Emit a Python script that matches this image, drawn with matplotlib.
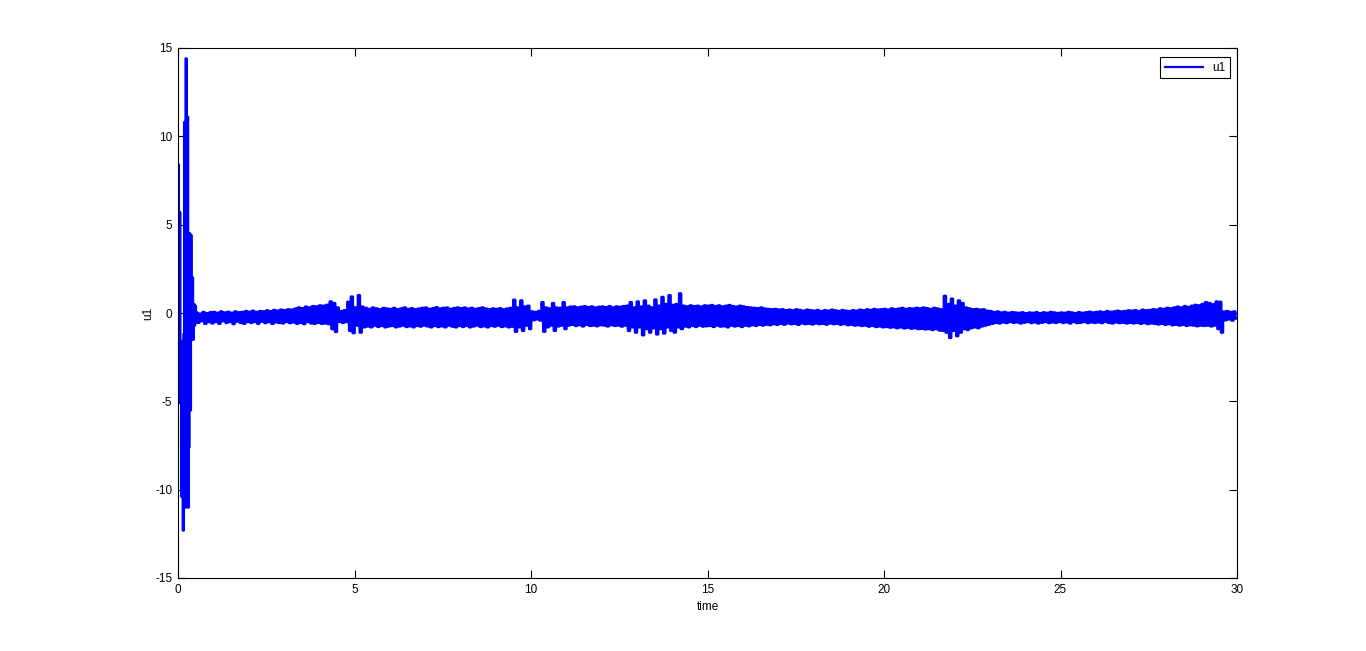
import numpy as np
import matplotlib
matplotlib.use("Agg")
from matplotlib import pyplot as plt

# start-up transient, sampled every 0.02 s from t = 0
transientStep = 0.02
transient = [8.4, 2.2, 5.7, -5.1, -1.6, -10.4, -1.6, -12.3, -1.2, 10.8,
             -11.0, 14.4, 3.6, 11.1, -11.0, -7.6, 4.5, -5.5, 4.4, -1.5,
             2.0, -1.5, 0.5, -0.7, 0.4]

# steady part from t = 0.5 s, one (high, low) pair every 0.1 s
bandStart = 0.5
bandStep = 0.1
bandHigh = [
    0.02, -0.05, 0.05, -0.02, 0.04,
    0.05, 0.0, 0.08, 0.02, 0.06, 0.0, 0.08, 0.03, 0.05, 0.1,
    0.06, 0.12, 0.05, 0.1, 0.08, 0.14, 0.1, 0.16, 0.12, 0.18,
    0.15, 0.2, 0.18, 0.24, 0.3, 0.26, 0.35, 0.3, 0.38, 0.36,
    0.42, 0.4, 0.45, 0.64, 0.55, 0.3, 0.1, 0.15, 0.62, 0.92,
    0.3, 1.0, 0.35, 0.28, 0.22, 0.3, 0.25, 0.2, 0.28, 0.24,
    0.22, 0.28, 0.2, 0.25, 0.3, 0.22, 0.26, 0.2, 0.24, 0.28,
    0.3, 0.22, 0.26, 0.32, 0.24, 0.28, 0.3, 0.22, 0.27, 0.3,
    0.26, 0.3, 0.24, 0.28, 0.22, 0.26, 0.3, 0.24, 0.2, 0.25,
    0.22, 0.26, 0.2, 0.24, 0.28, 0.74, 0.3, 0.7, 0.35, 0.4,
    0.08, 0.05, 0.1, 0.6, 0.3, 0.25, 0.55, 0.3, 0.28, 0.6,
    0.3, 0.35, 0.36, 0.3, 0.34, 0.38, 0.32, 0.36, 0.3, 0.34,
    0.36, 0.32, 0.38, 0.3, 0.36, 0.34, 0.38, 0.4, 0.6, 0.3,
    0.64, 0.35, 0.7, 0.4, 0.3, 0.75, 0.4, 0.9, 0.5, 1.0,
    0.45, 0.5, 1.1, 0.4, 0.36, 0.42, 0.38, 0.4, 0.35, 0.42,
    0.4, 0.44, 0.38, 0.42, 0.36, 0.4, 0.44, 0.38, 0.35, 0.4,
    0.36, 0.32, 0.3, 0.28, 0.26, 0.3, 0.24, 0.22, 0.2, 0.22,
    0.18, 0.2, 0.15, 0.18, 0.14, 0.2, 0.16, 0.12, 0.18, 0.15,
    0.12, 0.16, 0.1, 0.15, 0.12, 0.18, 0.14, 0.1, 0.16, 0.12,
    0.1, 0.15, 0.12, 0.18, 0.14, 0.2, 0.16, 0.22, 0.18, 0.2,
    0.22, 0.18, 0.25, 0.2, 0.24, 0.28, 0.22, 0.26, 0.24, 0.28,
    0.25, 0.3, 0.26, 0.22, 0.28, 0.24, 0.2, 0.96, 0.5, 0.8,
    0.4, 0.7, 0.55, 0.3, 0.25, 0.2, 0.22, 0.18, 0.2, 0.12,
    0.1, 0.05, 0.08, 0.02, 0.05, 0.0, 0.04, 0.02, 0.0, 0.03,
    -0.02, 0.02, 0.0, 0.04, -0.02, 0.03, 0.0, 0.05, 0.02, -0.01,
    0.02, 0.0, 0.05, 0.02, -0.02, 0.04, 0.0, 0.03, 0.06, 0.02,
    0.05, 0.08, 0.04, 0.1, 0.06, 0.08, 0.12, 0.08, 0.1, 0.14,
    0.12, 0.15, 0.1, 0.18, 0.14, 0.16, 0.2, 0.18, 0.25, 0.22,
    0.28, 0.25, 0.3, 0.35, 0.3, 0.38, 0.33, 0.4, 0.45, 0.42,
    0.5, 0.6, 0.55, 0.48, 0.64, 0.62, 0.07, 0.1, 0.05, 0.08,
]
bandLow = [
    -0.55, -0.45, -0.6, -0.5, -0.58,
    -0.5, -0.6, -0.45, -0.55, -0.5, -0.62, -0.48, -0.55, -0.6, -0.5,
    -0.55, -0.5, -0.6, -0.48, -0.56, -0.5, -0.6, -0.52, -0.55, -0.58,
    -0.5, -0.56, -0.52, -0.6, -0.55, -0.62, -0.5, -0.58, -0.6, -0.55,
    -0.6, -0.58, -0.62, -0.9, -1.06, -0.5, -0.55, -0.5, -1.0, -1.13,
    -0.7, -1.1, -0.8, -0.75, -0.8, -0.7, -0.78, -0.72, -0.8, -0.75,
    -0.72, -0.8, -0.75, -0.7, -0.78, -0.74, -0.8, -0.72, -0.76, -0.7,
    -0.75, -0.8, -0.72, -0.78, -0.74, -0.8, -0.7, -0.76, -0.8, -0.72,
    -0.78, -0.72, -0.8, -0.75, -0.7, -0.78, -0.74, -0.8, -0.72, -0.76,
    -0.7, -0.78, -0.74, -0.8, -0.76, -1.05, -0.8, -1.0, -0.7, -0.9,
    -0.4, -0.35, -0.42, -1.05, -0.8, -0.7, -1.0, -0.75, -0.7, -0.9,
    -0.7, -0.65, -0.72, -0.68, -0.75, -0.66, -0.72, -0.7, -0.74, -0.68,
    -0.7, -0.75, -0.68, -0.72, -0.7, -0.76, -0.7, -1.0, -0.8, -1.1,
    -0.8, -1.25, -0.9, -1.1, -0.85, -1.2, -0.9, -1.15, -0.8, -1.0,
    -1.1, -0.8, -0.9, -0.75, -0.8, -0.72, -0.78, -0.7, -0.76, -0.74,
    -0.72, -0.78, -0.7, -0.76, -0.74, -0.8, -0.7, -0.75, -0.72, -0.78,
    -0.7, -0.74, -0.68, -0.72, -0.66, -0.7, -0.65, -0.68, -0.62, -0.66,
    -0.6, -0.65, -0.58, -0.62, -0.6, -0.66, -0.58, -0.62, -0.6, -0.64,
    -0.58, -0.62, -0.6, -0.65, -0.58, -0.62, -0.6, -0.66, -0.62, -0.68,
    -0.65, -0.7, -0.68, -0.72, -0.7, -0.76, -0.72, -0.78, -0.75, -0.8,
    -0.78, -0.82, -0.8, -0.85, -0.8, -0.86, -0.82, -0.88, -0.85, -0.9,
    -0.88, -0.92, -0.9, -0.95, -0.9, -0.98, -1.0, -1.1, -1.4, -1.0,
    -1.3, -1.1, -0.9, -0.95, -0.85, -0.8, -0.85, -0.75, -0.7, -0.65,
    -0.6, -0.55, -0.58, -0.52, -0.56, -0.5, -0.55, -0.52, -0.58, -0.54,
    -0.5, -0.56, -0.52, -0.58, -0.54, -0.5, -0.56, -0.52, -0.55, -0.5,
    -0.55, -0.52, -0.58, -0.5, -0.56, -0.54, -0.5, -0.56, -0.52, -0.55,
    -0.52, -0.56, -0.5, -0.55, -0.58, -0.52, -0.56, -0.54, -0.58, -0.55,
    -0.58, -0.55, -0.6, -0.56, -0.62, -0.58, -0.6, -0.64, -0.6, -0.66,
    -0.62, -0.68, -0.65, -0.7, -0.66, -0.72, -0.68, -0.7, -0.74, -0.7,
    -0.72, -0.7, -0.75, -0.7, -0.9, -1.1, -0.4, -0.35, -0.42, -0.3,
]

xTicks = [0, 5, 10, 15, 20, 25, 30]
yTicks = [-15, -10, -5, 0, 5, 10, 15]


#----------------------------------------------------------------------------------------------------#

"""
Build the time axis: transient samples, then high/low pairs half a step apart
"""
tTransient = np.arange(len(transient)) * transientStep
tBand = bandStart + np.arange(len(bandHigh)) * bandStep
tPairs = np.column_stack([tBand, tBand + bandStep / 2]).ravel()
uPairs = np.column_stack([bandHigh, bandLow]).ravel()

time = np.concatenate([tTransient, tPairs, [30.0]])
u1 = np.concatenate([transient, uPairs, [bandLow[-1]]])

#----------------------------------------------------------------------------------------------------#

plt.rcParams['font.family'] = ['Liberation Sans', 'DejaVu Sans']
plt.rcParams['axes.unicode_minus'] = False

fig = plt.figure(figsize=(13.66, 6.51), dpi=100)
ax = fig.add_axes([178 / 1366, 1 - 578 / 651, (1237 - 178) / 1366, (578 - 48) / 651])

ax.plot(time, u1, color='#0000ff', linewidth=2, drawstyle='steps-post', label='u1')

ax.set_xlim(0, 30)
ax.set_ylim(-15, 15)
ax.set_xticks(xTicks)
ax.set_yticks(yTicks)
ax.tick_params(direction='in', top=True, right=True, length=6, width=0.8, labelsize=8.5, pad=4)
for side in ax.spines.values():
    side.set_linewidth(0.8)

ax.set_xlabel('time', fontsize=8.5, labelpad=4)
ax.set_ylabel('u1', fontsize=8.5, labelpad=1)

leg = ax.legend(loc='upper right', fontsize=8.5, fancybox=False, framealpha=1,
                edgecolor='black', handlelength=3.2, borderpad=0.4, borderaxespad=0,
                bbox_to_anchor=(0.9934, 0.983))
leg.get_frame().set_linewidth(0.8)
leg.get_lines()[0].set_linewidth(1.6)

fig.savefig('out.png', dpi=100)
